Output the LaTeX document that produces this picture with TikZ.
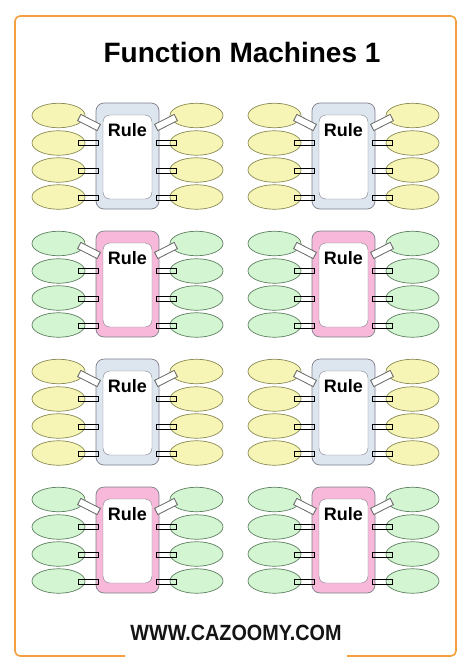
\documentclass[tikz,border=0pt]{standalone}
\usepackage{fontspec}
\setmainfont{Liberation Sans}
\usetikzlibrary{shapes.geometric}

\definecolor{frameOrange}{HTML}{F5A040}
\definecolor{ovalYellow}{HTML}{F7F5B5}
\definecolor{ovalGreen}{HTML}{D4F5D2}
\definecolor{shellBlue}{HTML}{DDE5EF}
\definecolor{shellPink}{HTML}{F7B8D9}
\definecolor{shellLine}{HTML}{7F7F8C}
\definecolor{lineYellow}{HTML}{8A8A55}
\definecolor{lineGreen}{HTML}{5F8062}

\begin{document}
\begin{tikzpicture}
[x=1pt,y=-1pt,
  ovalDecorate/.style={shape=ellipse,line width=0.7pt,minimum width=53pt,minimum height=24.5pt,inner sep=0pt},
  shellDecorate/.style={shape=rectangle,rounded corners=8pt,draw=shellLine,line width=0.7pt,minimum width=63pt,minimum height=106pt,inner sep=0pt},
  innerDecorate/.style={shape=rectangle,rounded corners=7pt,draw=shellLine,fill=white,minimum width=49pt,minimum height=84pt,inner sep=0pt},
  linkDecorate/.style={shape=rectangle,draw,line width=1.1pt,minimum width=20pt,minimum height=5.5pt,inner sep=0pt},
  slantDecorate/.style={shape=rectangle,draw=black!60,fill=white,line width=0.8pt,minimum width=22pt,minimum height=7pt,inner sep=0pt},
  ruleDecorate/.style={font=\bfseries\fontsize{18}{20}\selectfont,inner sep=0pt}]
\useasboundingbox (0,0) rectangle (474,670);
\fill[white] (0,0) rectangle (474,670);
%% frame with a gap for the logo
\draw[frameOrange,line width=1.6pt,rounded corners=5pt]
  (125,656) -- (15,656) -- (15,16) -- (456,16) -- (456,656) -- (347,656);
%% title and logo
\node (title) at (242,52) {\bfseries\fontsize{28}{30}\selectfont Function Machines 1};
\node (logo) at (236,633) [xscale=0.9,text=black!92] {\bfseries\fontsize{22}{22}\selectfont WWW.CAZOOMY.COM};
%% machines
\foreach \m/\ox/\oy/\oval/\ring/\shell in {
  a/96/103/ovalYellow/lineYellow/shellBlue, b/312/103/ovalYellow/lineYellow/shellBlue,
  c/96/231/ovalGreen/lineGreen/shellPink,   d/312/231/ovalGreen/lineGreen/shellPink,
  e/96/359/ovalYellow/lineYellow/shellBlue, f/312/359/ovalYellow/lineYellow/shellBlue,
  g/96/487/ovalGreen/lineGreen/shellPink,   h/312/487/ovalGreen/lineGreen/shellPink}
{
  \node (shell\m) at (\ox+31.5,\oy+53) [shellDecorate,fill=\shell] {};
  \node (inner\m) at (\ox+31.5,\oy+54) [innerDecorate] {};
  \node (rule\m) at (\ox+31.5,\oy+27) [ruleDecorate] {Rule};
  \foreach \k/\dy in {1/12.5,2/40,3/67,4/94}
  {
    \node (in\m\k) at (\ox-37.5,\oy+\dy) [ovalDecorate,draw=\ring,fill=\oval] {};
    \node (out\m\k) at (\ox+100.5,\oy+\dy) [ovalDecorate,draw=\ring,fill=\oval] {};
  }
  \node (inlink\m1) at (\ox-7,\oy+19.5) [slantDecorate,rotate=-27] {};
  \node (outlink\m1) at (\ox+70,\oy+19.5) [slantDecorate,rotate=27] {};
  \foreach \k/\dy in {2/40,3/68,4/95}
  {
    \node (inlink\m\k) at (\ox-7.5,\oy+\dy) [linkDecorate] {};
    \node (outlink\m\k) at (\ox+70.5,\oy+\dy) [linkDecorate] {};
  }
}
\end{tikzpicture}
\end{document}
